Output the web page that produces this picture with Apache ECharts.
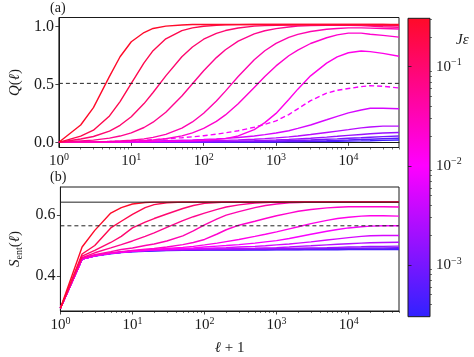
<!DOCTYPE html>
<html><head><meta charset="utf-8">
<script src="https://cdn.jsdelivr.net/npm/echarts@6/dist/echarts.min.js"></script>
<style>html,body{margin:0;padding:0;background:#fff}#c{width:474px;height:357px}</style>
</head><body><div id="c"></div>
<script>
// ---- data ----
const X = [1,2,3,5,7,10,15,20,30,50,70,100,150,200,300,500,700,1000,1500,2000,3000,5000,7000,10000,15000,20000,30000,50000];
const Jeps = [0.3,0.17,0.1,0.06,0.035,0.022,0.014,0.009,0.005,0.003,0.0018,0.001,0.0006,0.0004];
const q1 = [0,0.15,0.30,0.57,0.74,0.87,0.95,0.985,1.005,1.015,1.02,1.02,1.02,1.02,1.02,1.02,1.02,1.02,1.02,1.02,1.02,1.02,1.02,1.02,1.02,1.02,1.02,1.02];
const q2 = [0,0.053,0.105,0.228,0.352,0.51,0.688,0.793,0.896,0.967,0.99,1.004,1.012,1.016,1.018,1.02,1.02,1.02,1.02,1.02,1.02,1.02,1.02,1.02,1.02,1.02,1.02,1.015];
const q3 = [0,0.029,0.05,0.097,0.147,0.221,0.335,0.431,0.575,0.74,0.825,0.892,0.943,0.967,0.989,1.005,1.01,1.012,1.015,1.015,1.015,1.015,1.015,1.015,1.015,1.012,1.01,1.01];
const q4 = [0,0.012,0.019,0.036,0.054,0.081,0.128,0.174,0.26,0.40,0.506,0.619,0.733,0.801,0.876,0.938,0.965,0.984,0.998,1.005,1.01,1.012,1.012,1.012,1.01,1.005,1.0,0.995];
const q5 = [0,0.003,0.005,0.008,0.012,0.018,0.03,0.043,0.069,0.123,0.176,0.251,0.357,0.443,0.569,0.715,0.792,0.856,0.908,0.934,0.959,0.978,0.985,0.99,0.99,0.988,0.985,0.98];
const q6 = [0,0.001,0.002,0.004,0.006,0.009,0.014,0.02,0.031,0.056,0.082,0.12,0.181,0.237,0.333,0.475,0.569,0.661,0.749,0.798,0.855,0.905,0.93,0.945,0.945,0.935,0.925,0.91];
const q7 = [0,0,0.001,0.002,0.003,0.004,0.005,0.006,0.008,0.011,0.014,0.018,0.025,0.032,0.055,0.11,0.17,0.25,0.37,0.46,0.575,0.685,0.74,0.775,0.79,0.785,0.77,0.745];
const q8 = [0,0.002,0.004,0.007,0.01,0.013,0.018,0.022,0.03,0.04,0.047,0.057,0.07,0.082,0.10,0.13,0.155,0.185,0.24,0.29,0.36,0.425,0.45,0.465,0.482,0.49,0.485,0.47];
const q9 = [0,0.001,0.002,0.004,0.005,0.007,0.009,0.011,0.014,0.018,0.021,0.025,0.03,0.034,0.042,0.055,0.066,0.08,0.1,0.12,0.15,0.195,0.225,0.255,0.28,0.295,0.295,0.29];
const q10 = [0,0.001,0.001,0.002,0.003,0.004,0.005,0.006,0.007,0.009,0.011,0.013,0.015,0.017,0.021,0.027,0.032,0.038,0.047,0.055,0.067,0.085,0.097,0.11,0.125,0.133,0.14,0.14];
const q11 = [0,0,0.001,0.001,0.002,0.002,0.003,0.003,0.004,0.005,0.006,0.007,0.008,0.009,0.011,0.014,0.017,0.02,0.025,0.029,0.035,0.045,0.052,0.06,0.068,0.074,0.08,0.085];
const q12 = [0,0,0,0.001,0.001,0.001,0.002,0.002,0.002,0.003,0.003,0.004,0.005,0.005,0.006,0.008,0.009,0.011,0.014,0.016,0.02,0.026,0.03,0.035,0.04,0.044,0.049,0.054];
const q13 = [0,0,0,0,0.001,0.001,0.001,0.001,0.001,0.002,0.002,0.002,0.003,0.003,0.004,0.005,0.005,0.006,0.008,0.009,0.011,0.014,0.017,0.02,0.024,0.027,0.031,0.035];
const q14 = [0,0,0,0,0,0,0.001,0.001,0.001,0.001,0.001,0.001,0.001,0.002,0.002,0.002,0.003,0.003,0.004,0.005,0.006,0.007,0.009,0.01,0.012,0.014,0.017,0.02];

const s1 = [0.293,0.495,0.55,0.607,0.625,0.637,0.642,0.643,0.643,0.643,0.643,0.643,0.643,0.643,0.643,0.643,0.643,0.643,0.643,0.643,0.643,0.643,0.643,0.643,0.643,0.643,0.643,0.643];
const s2 = [0.293,0.472,0.50,0.558,0.58,0.603,0.625,0.635,0.641,0.643,0.643,0.643,0.643,0.643,0.643,0.643,0.643,0.643,0.643,0.643,0.643,0.643,0.643,0.643,0.643,0.643,0.643,0.643];
const s3 = [0.293,0.465,0.484,0.51,0.53,0.558,0.577,0.589,0.604,0.622,0.632,0.639,0.642,0.643,0.643,0.643,0.643,0.643,0.643,0.643,0.643,0.643,0.643,0.643,0.643,0.643,0.643,0.643];
const s4 = [0.293,0.46,0.476,0.492,0.503,0.515,0.53,0.542,0.56,0.582,0.595,0.607,0.619,0.627,0.634,0.64,0.642,0.643,0.643,0.643,0.643,0.643,0.643,0.643,0.643,0.643,0.643,0.643];
const s5 = [0.293,0.458,0.47,0.48,0.487,0.492,0.50,0.505,0.515,0.532,0.548,0.568,0.588,0.60,0.612,0.625,0.632,0.637,0.641,0.642,0.643,0.643,0.643,0.643,0.643,0.643,0.643,0.643];
const s6 = [0.293,0.457,0.468,0.476,0.48,0.484,0.488,0.49,0.495,0.503,0.51,0.52,0.538,0.552,0.567,0.58,0.589,0.598,0.607,0.613,0.619,0.624,0.626,0.628,0.628,0.628,0.628,0.627];
const s7 = [0.293,0.456,0.467,0.475,0.479,0.482,0.485,0.487,0.49,0.494,0.497,0.502,0.508,0.513,0.52,0.53,0.537,0.545,0.555,0.562,0.572,0.583,0.589,0.593,0.597,0.598,0.598,0.597];
const s8 = [0.293,0.455,0.466,0.474,0.478,0.481,0.484,0.486,0.488,0.49,0.492,0.495,0.498,0.50,0.503,0.508,0.512,0.516,0.523,0.529,0.537,0.547,0.553,0.558,0.562,0.564,0.565,0.565];
const s9 = [0.293,0.455,0.466,0.474,0.478,0.481,0.483,0.485,0.486,0.488,0.489,0.49,0.492,0.493,0.495,0.497,0.499,0.502,0.505,0.508,0.512,0.518,0.522,0.526,0.53,0.532,0.533,0.533];
const s10 = [0.293,0.455,0.466,0.474,0.478,0.481,0.483,0.485,0.486,0.487,0.488,0.488,0.489,0.489,0.49,0.491,0.492,0.493,0.495,0.497,0.499,0.502,0.504,0.506,0.508,0.509,0.51,0.511];
const s11 = [0.293,0.455,0.466,0.474,0.478,0.481,0.483,0.485,0.486,0.487,0.487,0.487,0.488,0.488,0.488,0.489,0.489,0.49,0.49,0.491,0.492,0.493,0.494,0.495,0.496,0.497,0.497,0.498];
const s12 = [0.293,0.455,0.466,0.474,0.478,0.481,0.483,0.484,0.485,0.486,0.486,0.487,0.487,0.487,0.487,0.488,0.488,0.488,0.488,0.489,0.489,0.49,0.49,0.491,0.491,0.492,0.492,0.493];
const s13 = [0.293,0.455,0.466,0.474,0.478,0.48,0.482,0.483,0.484,0.485,0.485,0.486,0.486,0.486,0.486,0.487,0.487,0.487,0.487,0.487,0.488,0.488,0.488,0.488,0.489,0.489,0.489,0.49];
const s14 = [0.293,0.455,0.465,0.473,0.477,0.479,0.481,0.482,0.483,0.484,0.484,0.485,0.485,0.485,0.485,0.485,0.485,0.486,0.486,0.486,0.486,0.486,0.486,0.487,0.487,0.487,0.487,0.487];

const qHalf = 0.51;          // dashed line, panel (a)
const sSat = 0.643;          // solid line, panel (b)
const sHalf = 0.565;         // dashed line, panel (b)
const dashedCurve = 7;       // index of the dashed curve
const xMajor = [1,10,100,1000,10000];
const xMinor = [2,3,4,5,6,7,8,9,20,30,40,50,60,70,80,90,200,300,400,500,600,700,800,900,2000,3000,4000,5000,6000,7000,8000,9000,20000,30000,40000,50000];
const cbMajor = [0.001,0.01,0.1];
const cbMinor = [0.0004,0.0005,0.0006,0.0007,0.0008,0.0009,0.002,0.003,0.004,0.005,0.006,0.007,0.008,0.009,0.02,0.03,0.04,0.05,0.06,0.07,0.08,0.09,0.2,0.3];
const cbMin = 3e-4, cbMax = 0.308;

const Q = [q1,q2,q3,q4,q5,q6,q7,q8,q9,q10,q11,q12,q13,q14];
const S = [s1,s2,s3,s4,s5,s6,s7,s8,s9,s10,s11,s12,s13,s14];

// ---- colormap (blue -> magenta -> red on log J) ----
const stops = [[Math.log10(cbMin),[48,34,255]],[-2,[255,0,255]],[Math.log10(cbMax),[255,10,40]]];
function rgb(c){return 'rgb('+c.join(',')+')';}
function cmap(j){
  const l = Math.log10(j);
  if (l <= stops[0][0]) return rgb(stops[0][1]);
  for (let i=0;i<stops.length-1;i++){
    const [a,ca]=stops[i],[b,cb]=stops[i+1];
    if (l<=b){const t=(l-a)/(b-a); return rgb(ca.map((c,k)=>Math.round(c+(cb[k]-c)*t)));}
  }
  return rgb(stops[stops.length-1][1]);
}
const span = Math.log10(cbMax)-Math.log10(cbMin);
const grad = {type:'linear',x:0,y:0,x2:0,y2:1,colorStops:[
  {offset:0,color:rgb(stops[2][1])},
  {offset:(Math.log10(cbMax)-(-2))/span,color:rgb(stops[1][1])},
  {offset:1,color:rgb(stops[0][1])}]};

const FONT = '"Liberation Serif","DejaVu Serif",serif';
const INK = '#1a1a1a';
const richPow = {b:{fontSize:15,fontFamily:FONT,color:INK,lineHeight:18},s:{fontSize:10,fontFamily:FONT,color:INK,verticalAlign:'top',lineHeight:18}};
function powFmt(v){const e=Math.round(Math.log10(v)); return '{b|10}{s|'+(e<0?'\u2212'+(-e):e)+'}';}

function xAxes(grid, withName){
  const major = {gridIndex:grid,type:'log',logBase:10,min:1,max:50000,position:'bottom',
    axisLine:{show:true,lineStyle:{color:INK,width:1}},
    axisTick:{show:true,customValues:xMajor,length:3.5,lineStyle:{color:INK,width:0.8}},
    axisLabel:{customValues:xMajor,formatter:powFmt,rich:richPow,margin:5,fontFamily:FONT},
    splitLine:{show:false},minorTick:{show:false},minorSplitLine:{show:false}};
  if (withName){
    major.name='{i|\u2113} + 1'; major.nameLocation='middle'; major.nameGap=30;
    major.nameTextStyle={fontFamily:FONT,fontSize:15,color:INK,rich:{i:{fontFamily:FONT,fontStyle:'italic',fontSize:15,color:INK}}};
  }
  const minor = {gridIndex:grid,type:'log',logBase:10,min:1,max:50000,position:'bottom',
    axisLine:{show:false},
    axisTick:{show:true,customValues:xMinor,length:2,lineStyle:{color:INK,width:0.6}},
    axisLabel:{show:false},splitLine:{show:false}};
  return [major,minor];
}

const xAxis = [...xAxes(0,false), ...xAxes(1,true), {gridIndex:2,type:'value',show:false,min:0,max:1}];

const yAxis = [
  {gridIndex:0,type:'value',min:-0.045,max:1.08,
   axisLine:{show:true,lineStyle:{color:INK,width:1}},
   axisTick:{show:true,customValues:[0,0.5,1],length:3.5,lineStyle:{color:INK,width:0.8}},
   axisLabel:{customValues:[0,0.5,1],formatter:v=>v.toFixed(1),fontFamily:FONT,fontSize:16,color:INK,margin:5},
   splitLine:{show:false},
   name:'{i|Q}{n|(}{i|\u2113}{n|)}',nameLocation:'middle',nameGap:35,nameRotate:90,
   nameTextStyle:{rich:{i:{fontFamily:FONT,fontStyle:'italic',fontSize:15,color:INK},n:{fontFamily:FONT,fontSize:15,color:INK}}}},
  {gridIndex:1,type:'value',min:0.284,max:0.693,
   axisLine:{show:true,lineStyle:{color:INK,width:1}},
   axisTick:{show:true,customValues:[0.4,0.6],length:3.5,lineStyle:{color:INK,width:0.8}},
   axisLabel:{customValues:[0.4,0.6],formatter:v=>v.toFixed(1),fontFamily:FONT,fontSize:16,color:INK,margin:5},
   splitLine:{show:false},
   name:'{i|S}{sub|ent}{n|(}{i|\u2113}{n|)}',nameLocation:'middle',nameGap:35,nameRotate:90,
   nameTextStyle:{rich:{i:{fontFamily:FONT,fontStyle:'italic',fontSize:15,color:INK,lineHeight:18},
     sub:{fontFamily:FONT,fontSize:10,color:INK,verticalAlign:'bottom',lineHeight:18},
     n:{fontFamily:FONT,fontSize:15,color:INK,lineHeight:18}}}},
  {gridIndex:2,type:'log',logBase:10,min:cbMin,max:cbMax,position:'right',
   axisLine:{show:false},
   axisTick:{show:true,customValues:cbMajor,length:3.5,lineStyle:{color:INK,width:0.8}},
   axisLabel:{customValues:cbMajor,formatter:powFmt,rich:richPow,margin:6},
   splitLine:{show:false}},
  {gridIndex:2,type:'log',logBase:10,min:cbMin,max:cbMax,position:'right',
   axisLine:{show:false},
   axisTick:{show:true,customValues:cbMinor,length:2,lineStyle:{color:INK,width:0.6}},
   axisLabel:{show:false},splitLine:{show:false}}
];

const series = [];
// low J first, high J on top
for (let i=Q.length-1;i>=0;i--){
  series.push({type:'line',xAxisIndex:0,yAxisIndex:0,data:X.map((x,k)=>[x,Q[i][k]]),
    showSymbol:false,smooth:false,silent:true,animation:false,
    lineStyle:{color:cmap(Jeps[i]),width:1.4,type:i===dashedCurve?[5,3]:'solid'}});
}
for (let i=S.length-1;i>=0;i--){
  series.push({type:'line',xAxisIndex:2,yAxisIndex:1,data:X.map((x,k)=>[x,S[i][k]]),
    showSymbol:false,smooth:false,silent:true,animation:false,
    lineStyle:{color:cmap(Jeps[i]),width:1.4}});
}
function hline(xi,yi,v,type){
  series.push({type:'line',xAxisIndex:xi,yAxisIndex:yi,data:[[1,v],[50000,v]],showSymbol:false,
    silent:true,animation:false,z:5,lineStyle:{color:'#222',width:1,type:type}});
}
hline(0,0,qHalf,[4,3]);
hline(2,1,sSat,'solid');
hline(2,1,sHalf,[4,3]);

const chart = echarts.init(document.getElementById('c'),null,{renderer:'canvas'});
chart.setOption({
  animation:false,
  backgroundColor:'#fff',
  grid:[
    {left:50,top:17.5,width:349,height:130,show:true,borderColor:INK,borderWidth:1,backgroundColor:'transparent'},
    {left:50,top:187,width:349,height:130,show:true,borderColor:INK,borderWidth:1,backgroundColor:'transparent'},
    {left:408,top:18.3,width:22,height:298.4,show:true,borderColor:INK,borderWidth:1,backgroundColor:grad}
  ],
  xAxis, yAxis, series,
  graphic:[
    {type:'text',left:50,top:1,style:{text:'(a)',font:'14px '+FONT,fill:INK}},
    {type:'text',left:50,top:170,style:{text:'(b)',font:'14px '+FONT,fill:INK}},
    {type:'text',left:456,top:33,style:{text:'J\u03b5',font:'italic 15px '+FONT,fill:INK}}
  ]
});
</script></body></html>
